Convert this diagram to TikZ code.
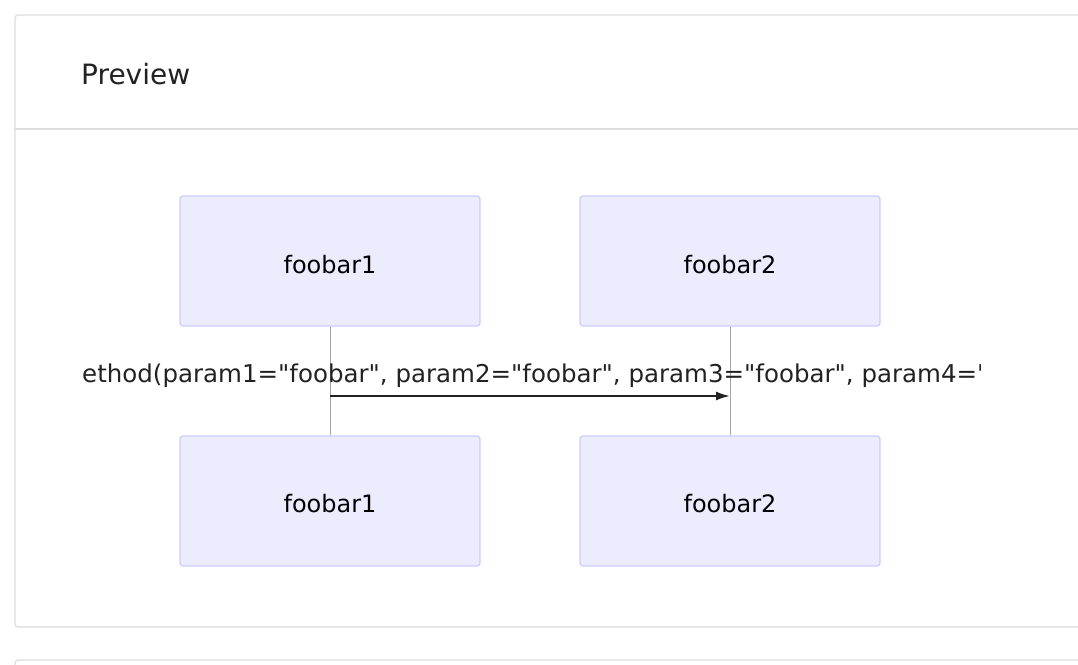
\documentclass[tikz,border=0pt]{standalone}
\usepackage{fontspec}
\setmainfont[Ligatures=TeXOff]{DejaVu Sans}
\usetikzlibrary{arrows.meta}
\definecolor{boxfill}{HTML}{ECECFF}
\definecolor{boxline}{HTML}{CCCCFF}
\definecolor{panel}{HTML}{DDDDDD}
\definecolor{txt}{HTML}{222222}
\begin{document}
\begin{tikzpicture}[x=1pt,y=-1pt,
  actor/.style={draw=boxline,fill=boxfill,line width=1.2pt,rounded corners=3pt,minimum width=300pt,minimum height=130pt,inner sep=0pt,font=\fontsize{24}{28}\selectfont,text=black},
  life/.style={draw=gray!70,line width=1pt},
  msg/.style={draw=txt,line width=2pt,-{Latex[length=14pt,width=9pt]}}]
\useasboundingbox (0,0) rectangle (1078,664);
\fill[white] (0,0) rectangle (1078,664);
\draw[panel,line width=1.2pt,rounded corners=3pt] (1090,15) -- (15,15) -- (15,627) -- (1090,627);
\draw[panel,line width=1.2pt] (15,129) -- (1078,129);
\draw[panel,line width=1.2pt,rounded corners=3pt] (1090,660) -- (15,660) -- (15,680);
\node[anchor=base west,inner sep=0pt,font=\fontsize{28}{32}\selectfont,text=txt] (title) at (81,84) {Preview};
\node[actor] (a1) at (330,261) {};
\node[actor] (a2) at (730,261) {};
\node[anchor=base,font=\fontsize{24}{28}\selectfont] (t1) at (330,273) {foobar1};
\node[anchor=base,font=\fontsize{24}{28}\selectfont] (t2) at (730,273) {foobar2};
\node[actor] (b1) at (330,501) {};
\node[actor] (b2) at (730,501) {};
\node[anchor=base,font=\fontsize{24}{28}\selectfont] (t3) at (330,512) {foobar1};
\node[anchor=base,font=\fontsize{24}{28}\selectfont] (t4) at (730,512) {foobar2};
\draw[life] (a1.south) -- (b1.north);
\draw[life] (a2.south) -- (b2.north);
\coordinate (m1) at (330,396);
\coordinate (m2) at (730,396);
\draw[msg] (m1) -- (m2);
\begin{scope}
\clip (82,340) rectangle (980,400);
\node[anchor=base west,inner sep=0pt,font=\fontsize{24.5}{28}\selectfont,text=txt] (lbl) at (82,382) {ethod(param1="foobar", param2="foobar", param3="foobar", param4="foobar")};
\end{scope}
\end{tikzpicture}
\end{document}
